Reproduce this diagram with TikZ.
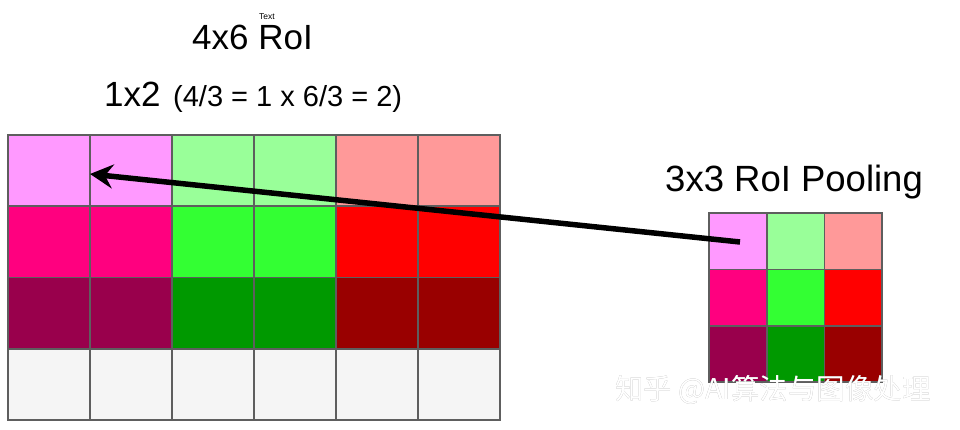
\documentclass[tikz,border=0pt]{standalone}
\usepackage{fontspec}
\setmainfont{Liberation Sans}
\newfontfamily\cjkfont{Noto Sans CJK SC}
\usepackage[outline]{contour}
\contourlength{0.9pt}
\usetikzlibrary{arrows.meta}
\definecolor{cPinkL}{HTML}{FF99FF}
\definecolor{cGreenL}{HTML}{99FF99}
\definecolor{cRedL}{HTML}{FF9999}
\definecolor{cPink}{HTML}{FF007F}
\definecolor{cGreen}{HTML}{33FF33}
\definecolor{cRed}{HTML}{FF0000}
\definecolor{cPinkD}{HTML}{99004C}
\definecolor{cGreenD}{HTML}{009900}
\definecolor{cRedD}{HTML}{990000}
\definecolor{cWhite}{HTML}{F5F5F5}
\definecolor{cBorder}{HTML}{5E5E5E}
\begin{document}
\begin{tikzpicture}[x=1pt,y=-1pt,
  bigcell/.style={minimum width=82pt,minimum height=71.25pt,inner sep=0pt,outer sep=0pt,anchor=north west},
  smallcell/.style={minimum width=57.7pt,minimum height=56.4pt,inner sep=0pt,outer sep=0pt,anchor=north west},
  cellborder/.style={draw=cBorder,line width=1.6pt},
  bigtext/.style={font=\fontsize{35}{40}\selectfont,inner sep=0pt,anchor=base west},
  midtext/.style={font=\fontsize{29}{34}\selectfont,inner sep=0pt,anchor=base west},
  pooltext/.style={font=\fontsize{36.5}{42}\selectfont,inner sep=0pt,anchor=base west},
  wmtext/.style={font=\cjkfont\fontsize{28.5}{32}\selectfont,inner sep=0pt,anchor=base west},
  arrowline/.style={line width=5.5pt,-{Stealth[length=23pt,width=24pt,inset=8pt]}}
]
\useasboundingbox (0,0) rectangle (960,430);
\fill[white] (0,0) rectangle (960,430);
% left 4x6 grid
\foreach \r/\ca/\cb/\cc in {0/cPinkL/cGreenL/cRedL,1/cPink/cGreen/cRed,2/cPinkD/cGreenD/cRedD,3/cWhite/cWhite/cWhite}{
  \node[bigcell,fill=\ca] (L-\r-0) at (8,{135+71.25*\r}) {};
  \node[bigcell,fill=\ca] (L-\r-1) at (90,{135+71.25*\r}) {};
  \node[bigcell,fill=\cb] (L-\r-2) at (172,{135+71.25*\r}) {};
  \node[bigcell,fill=\cb] (L-\r-3) at (254,{135+71.25*\r}) {};
  \node[bigcell,fill=\cc] (L-\r-4) at (336,{135+71.25*\r}) {};
  \node[bigcell,fill=\cc] (L-\r-5) at (418,{135+71.25*\r}) {};
}
\foreach \r in {0,...,3}{
  \foreach \c in {0,...,5}{
    \draw[cellborder] (L-\r-\c.north west) rectangle (L-\r-\c.south east);
  }
}
% right 3x3 grid
\foreach \r/\ca/\cb/\cc in {0/cPinkL/cGreenL/cRedL,1/cPink/cGreen/cRed,2/cPinkD/cGreenD/cRedD}{
  \node[smallcell,fill=\ca] (R-\r-0) at (709,{213+56.4*\r}) {};
  \node[smallcell,fill=\cb] (R-\r-1) at (766.7,{213+56.4*\r}) {};
  \node[smallcell,fill=\cc] (R-\r-2) at (824.4,{213+56.4*\r}) {};
}
\foreach \r in {0,...,2}{
  \foreach \c in {0,...,2}{
    \draw[cellborder] (R-\r-\c.north west) rectangle (R-\r-\c.south east);
  }
}
% texts
\node[bigtext] (t1) at (192,50) {4x6 RoI};
\node[font=\fontsize{8.5}{10}\selectfont,inner sep=0pt,anchor=base west] (t0) at (259,20) {Text};
\node[bigtext] (t2) at (104,107) {1x2};
\node[midtext] (t3) at (173,107) {(4/3 = 1 x 6/3 = 2)};
\node[pooltext] (t4) at (665,192) {3x3 RoI Pooling};
% arrow
\coordinate (src) at (740,242);
\coordinate (dst) at (90,174);
\draw[arrowline] (src) -- (dst);
% watermark
\node[wmtext] (wm) at (615,399) {\contour{gray!75}{\textcolor{white}{知乎 @AI算法与图像处理}}};
\end{tikzpicture}
\end{document}
